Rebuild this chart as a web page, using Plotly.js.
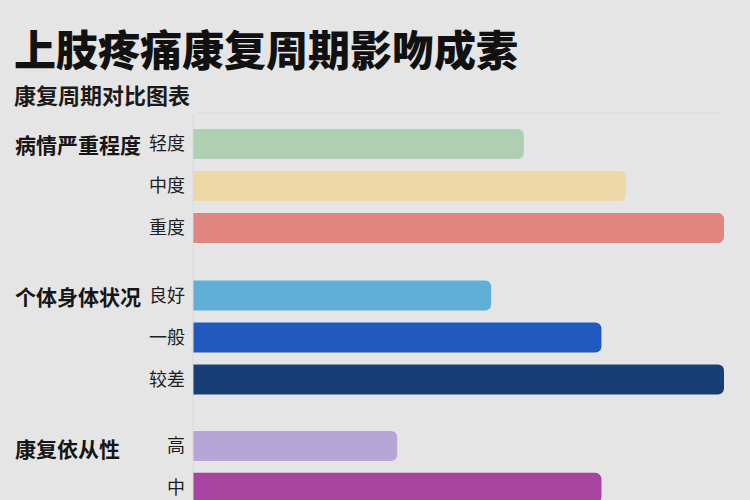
<!DOCTYPE html>
<html>
<head>
<meta charset="utf-8">
<script src="https://cdn.plot.ly/plotly-3.0.1.min.js"></script>
<style>
  html, body { margin: 0; padding: 0; background: #e6e5e6; }
  #chart { width: 750px; height: 500px; }
</style>
</head>
<body>
<div id="chart"></div>
<script>
// data -----------------------------------------------------------------
const groupNames = ["病情严重程度", "个体身体状况", "康复依从性"];

const severityCats = ["轻度", "中度", "重度"];
const severityWeeks = [8.1, 10.6, 13];

const conditionCats = ["良好", "一般", "较差"];
const conditionWeeks = [7.3, 10, 13];

const complianceCats = ["高", "中", "低"];
const complianceWeeks = [5, 10, 13];

// colours ----------------------------------------------------------------
const severityColors = ["#aecfb1", "#eed9a6", "#e08580"];
const conditionColors = ["#5fafd6", "#2159bf", "#173f75"];
const complianceColors = ["#b6a6d6", "#a8439f", "#6a2a86"];

const font = "'Noto Sans CJK SC', 'Noto Sans', sans-serif";
const bg = "#e6e5e6";

// pixel helper: paper y from figure pixel (margins t/b are 0)
function py(px) { return 1 - px / 500; }

function barTrace(cats, vals, colors, yax) {
    return {
        type: "bar",
        orientation: "h",
        y: cats,
        x: vals,
        yaxis: yax,
        xaxis: "x",
        marker: { color: colors, cornerradius: 6, line: { width: 0 } },
        hoverinfo: "y+x",
        showlegend: false
    };
}

const data = [
    barTrace(severityCats, severityWeeks, severityColors, "y"),
    barTrace(conditionCats, conditionWeeks, conditionColors, "y2"),
    barTrace(complianceCats, complianceWeeks, complianceColors, "y3")
];

function catAxis(domain, range) {
    return {
        domain: domain,
        anchor: "x",
        type: "category",
        range: range,
        showgrid: false,
        zeroline: false,
        showline: false,
        ticks: "",
        ticklabelstandoff: 7,
        tickfont: { family: font, size: 18, color: "#1e1e1e" },
        fixedrange: true
    };
}

const groupFont = { family: font, size: 21, color: "#161616", weight: 700 };

const layout = {
    width: 750,
    height: 500,
    margin: { l: 193, r: 26, t: 0, b: 0 },
    paper_bgcolor: bg,
    plot_bgcolor: bg,
    bargap: 0.28,
    title: {
        text: "上肢疼痛康复周期影吻成素",
        x: 14 / 750, xanchor: "left", xref: "container",
        y: py(51), yanchor: "middle", yref: "container",
        font: { family: font, size: 42, color: "#111", weight: 900 }
    },
    xaxis: { range: [0, 13], visible: false, fixedrange: true },
    yaxis: catAxis([py(249), py(123)], [2.5, -0.5]),
    yaxis2: catAxis([py(400.5), py(274.5)], [2.5, -0.5]),
    yaxis3: catAxis([0, py(425)], [1.286, -0.5]),
    shapes: [
        { type: "line", xref: "paper", yref: "paper", x0: 0.006, x1: 0.992,
          y0: py(113), y1: py(113), line: { color: "#d9d8d9", width: 1 } },
        { type: "line", xref: "paper", yref: "paper", x0: 0, x1: 0,
          y0: py(113), y1: 0, line: { color: "#d9d8d9", width: 1 } }
    ],
    annotations: [
        { text: "康复周期对比图表", xref: "paper", yref: "paper",
          x: -181 / 531, xanchor: "left", y: py(94), yanchor: "middle",
          showarrow: false, font: { family: font, size: 22, color: "#1a1a1a", weight: 700 } },
        { text: groupNames[0], xref: "paper", yref: "y", x: -180 / 531, xanchor: "left",
          y: severityCats[0], yanchor: "middle", showarrow: false, font: groupFont },
        { text: groupNames[1], xref: "paper", yref: "y2", x: -180 / 531, xanchor: "left",
          y: conditionCats[0], yanchor: "middle", showarrow: false, font: groupFont },
        { text: groupNames[2], xref: "paper", yref: "y3", x: -180 / 531, xanchor: "left",
          y: complianceCats[0], yanchor: "middle", yshift: -2, showarrow: false, font: groupFont }
    ]
};

Plotly.newPlot("chart", data, layout, { displayModeBar: false, staticPlot: true });
</script>
</body>
</html>
